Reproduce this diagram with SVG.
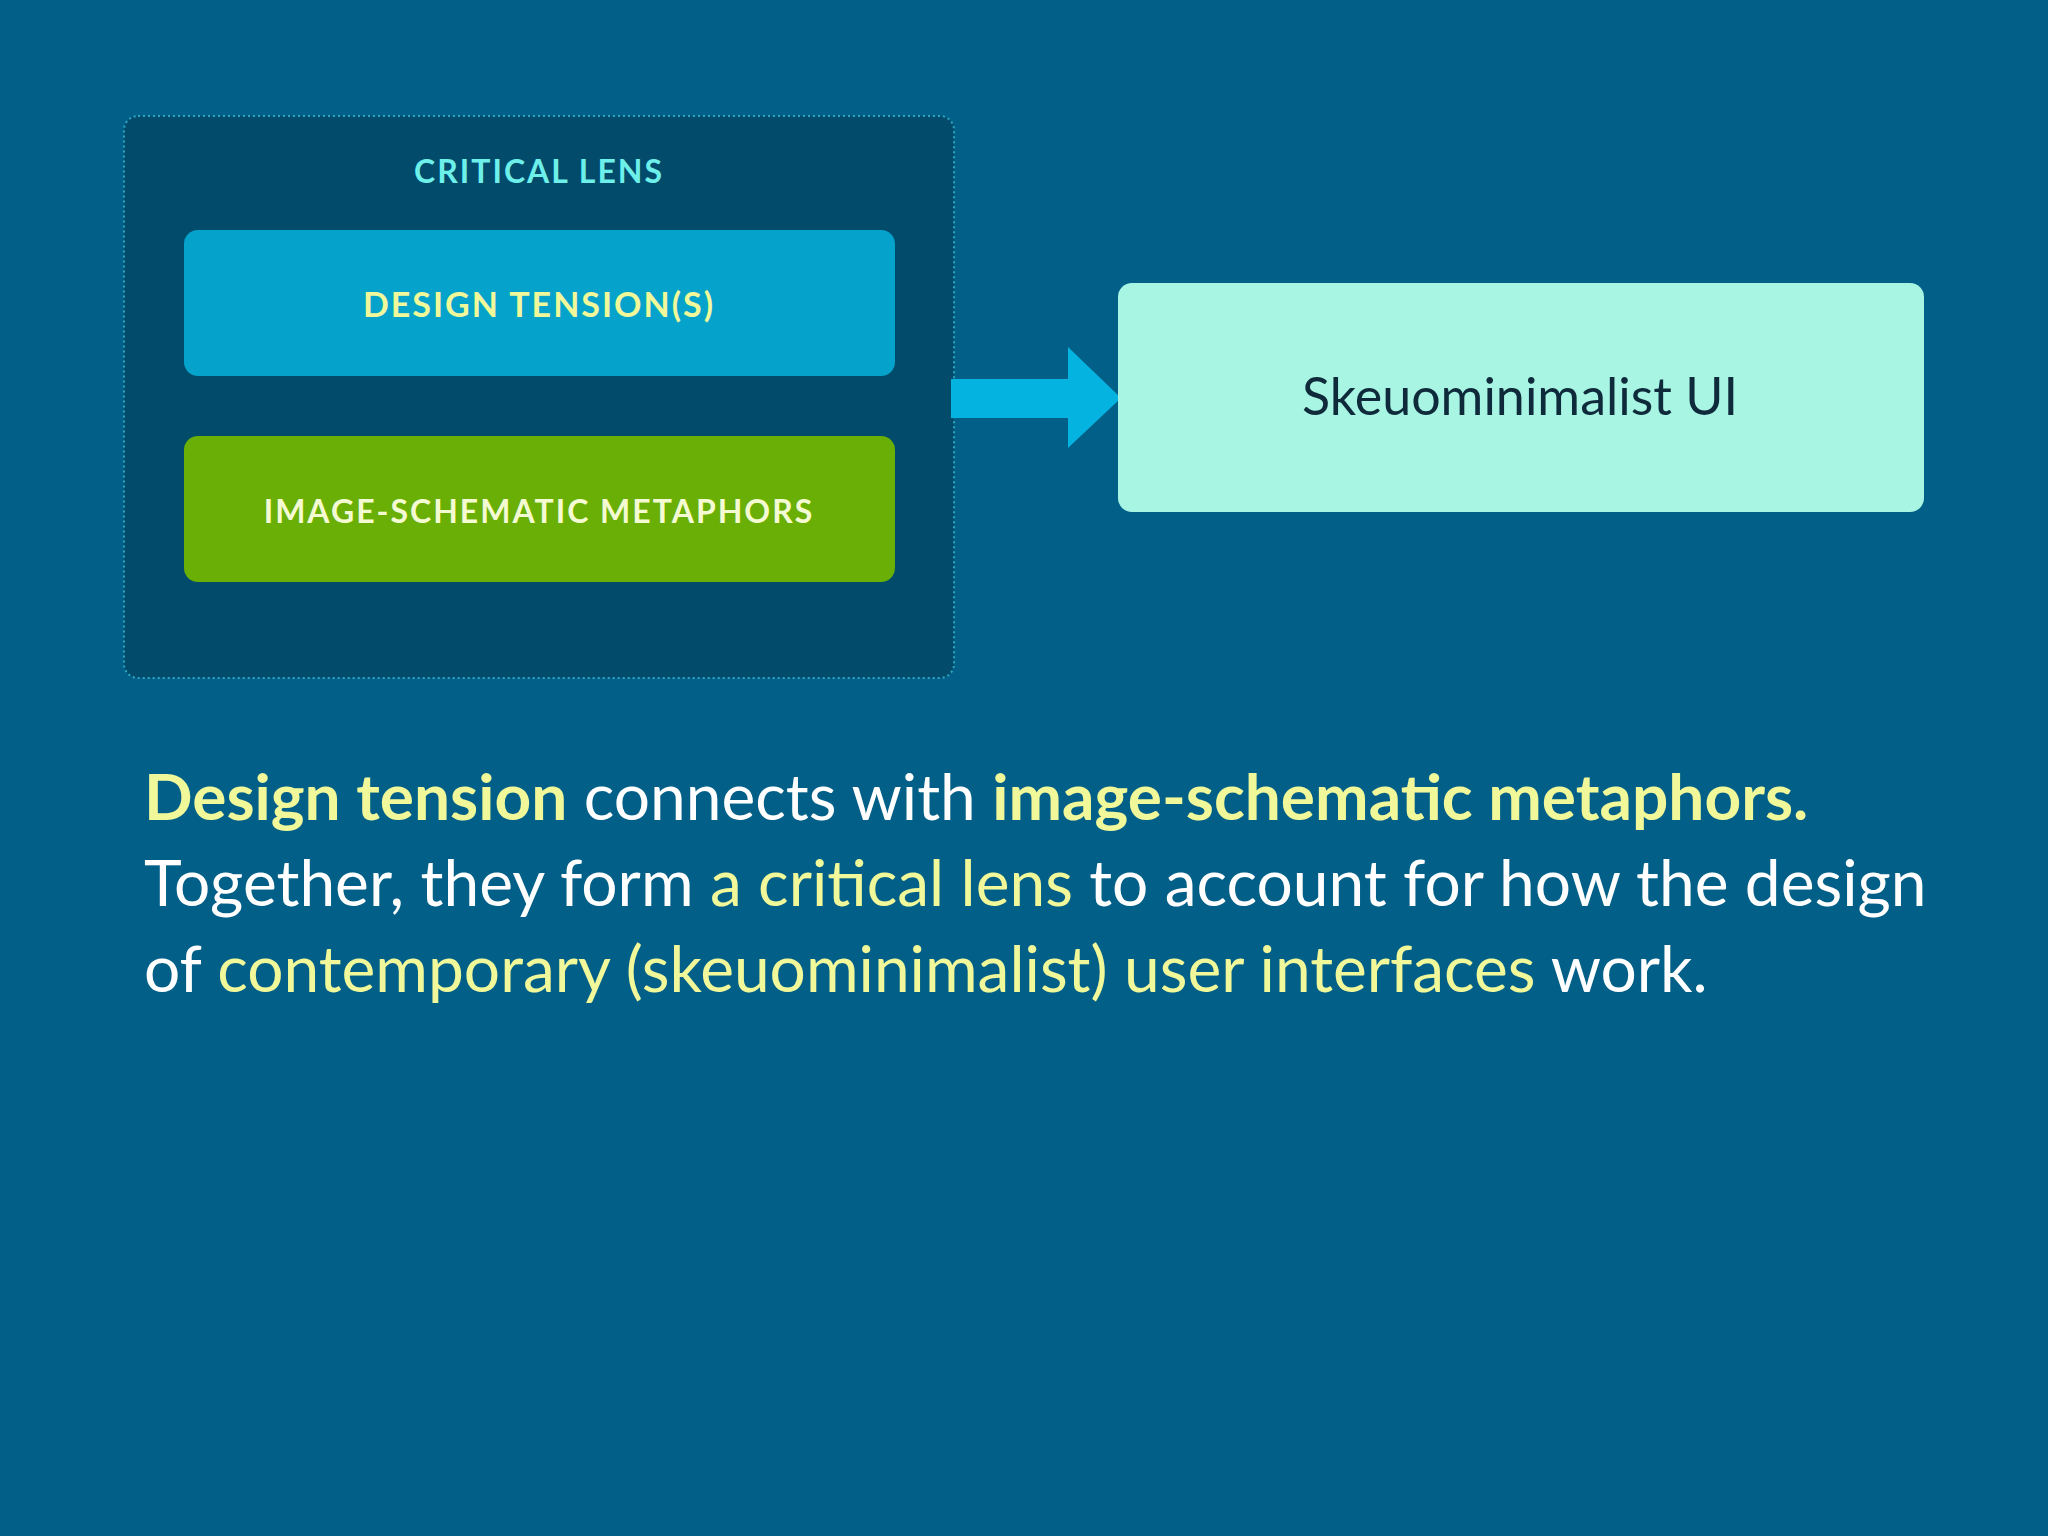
<svg xmlns="http://www.w3.org/2000/svg" width="2048" height="1536" viewBox="0 0 2048 1536">
<style>
.cap{font-family:Lato,"Open Sans",sans-serif;font-weight:700;letter-spacing:2px;text-anchor:middle}
.p{font-family:Lato,"Open Sans",sans-serif;font-size:64px;fill:#ffffff}
.y{fill:#f0f89a}
.b{font-weight:700}
</style>
<rect width="2048" height="1536" fill="#025f87"/>
<g id="critical-lens">
<rect x="124" y="116" width="830" height="562" rx="14" fill="#024b6b" stroke="#2aa6c0" stroke-width="2" stroke-dasharray="2 3"/>
<text class="cap" x="539" y="183" font-size="32" fill="#6ef0ea">CRITICAL LENS</text>
</g>
<g id="design-tension">
<rect x="184" y="230" width="711" height="146" rx="14" fill="#05a3cc"/>
<text class="cap" x="539" y="317" font-size="34" fill="#f0f89a">DESIGN TENSION(S)</text>
</g>
<g id="image-schematic">
<rect x="184" y="436" width="711" height="146" rx="14" fill="#6aaf06"/>
<text class="cap" x="539" y="523" font-size="32" fill="#f4fbd2">IMAGE-SCHEMATIC METAPHORS</text>
</g>
<g id="connectors">
<polygon points="951,379 1068,379 1068,347 1121,398 1068,448 1068,418 951,418" fill="#05b3e0"/>
</g>
<g id="skeuominimalist">
<rect x="1118" y="283" width="806" height="229" rx="14" fill="#a8f5e3"/>
<text x="1520" y="415" font-family="Lato,'Open Sans',sans-serif" font-size="52" fill="#0f2a3a" text-anchor="middle">Skeuominimalist UI</text>
</g>
<text class="p" x="144" y="820"><tspan class="y b">Design tension</tspan> connects with <tspan class="y b">image-schematic metaphors.</tspan></text>
<text class="p" x="144" y="906">Together, they form <tspan class="y">a critical lens</tspan> to account for how the design</text>
<text class="p" x="144" y="992">of <tspan class="y">contemporary (skeuominimalist) user interfaces</tspan> work.</text>
</svg>
